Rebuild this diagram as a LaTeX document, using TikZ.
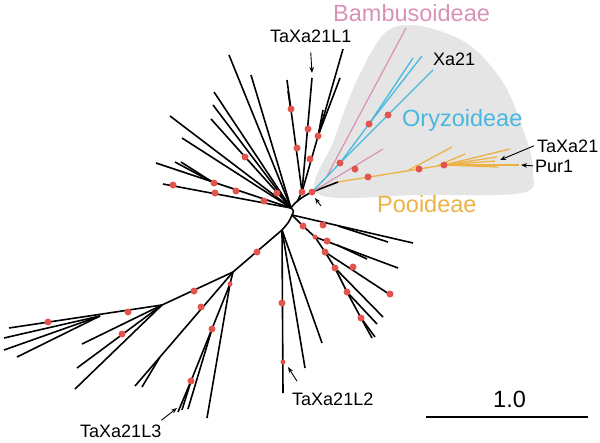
\documentclass[tikz,border=0pt]{standalone}
\usepackage{fontspec}
\setmainfont{Liberation Sans}
\usetikzlibrary{arrows.meta}
\definecolor{bambu}{RGB}{216,146,182}
\definecolor{oryza}{RGB}{72,184,224}
\definecolor{pooid}{RGB}{236,178,70}
\definecolor{dotred}{RGB}{226,84,76}
\definecolor{cladegrey}{RGB}{229,229,229}
\tikzset{
  br/.style={line width=1.6pt, black},
  pk/.style={line width=1.2pt, bambu},
  bl/.style={line width=1.3pt, oryza},
  og/.style={line width=1.3pt, pooid},
  dot/.style={circle, fill=dotred, inner sep=0pt, minimum size=7pt},
  sdot/.style={dot, minimum size=5pt},
  lab/.style={font=\fontsize{18}{20}\selectfont, inner sep=0pt, anchor=base west},
  big/.style={font=\fontsize{23.5}{26}\selectfont, inner sep=0pt, anchor=base west},
  ptr/.style={-{Stealth[length=6pt,width=4.5pt]}, line width=0.9pt}
}
\begin{document}
\begin{tikzpicture}[x=1pt,y=-1pt]
\useasboundingbox (0,0) rectangle (600,442);
% grass clade
\fill[cladegrey] plot[smooth cycle, tension=0.55] coordinates {(318,194) (334,140) (358,78) (386,32) (420,26) (468,44) (504,84) (526,138) (533,172) (522,193) (420,195)};

% centre
\coordinate (ctr) at (291,208);
\coordinate (mid) at (292,215);
\coordinate (stem) at (297,202);
\coordinate (up) at (302,192);
\coordinate (gr) at (312,192);
\coordinate (lo) at (282,230);
\draw[br] (ctr) .. controls (294,203) and (303,196) .. (gr);
\draw[br] (ctr) .. controls (294,211) .. (mid);
\draw[br] (mid) .. controls (289,222) .. (lo);
\draw[br] (stem) -- (up);

% upper left fan
\coordinate (u1) at (229,55);
\coordinate (u2) at (251,75);
\coordinate (u3) at (214,92);
\coordinate (u4) at (213,105);
\coordinate (u5) at (211,119);
\coordinate (u6) at (170,116);
\coordinate (u7) at (182,138);
\coordinate (u8) at (156,163);
\coordinate (u9) at (175,162);
\coordinate (u10) at (181,162);
\coordinate (u11) at (163,184);
\coordinate (uk) at (214,183);
\foreach \e in {u1,u2,u3,u4,u5,u6,u7,u8,u11}
  \draw[br] (ctr) -- (\e);
\draw[br] (uk) -- (u9);
\draw[br] (uk) -- (u10);

% TaXa21L1 clade
\coordinate (t1) at (287,80);
\coordinate (t1a) at (291,111);
\coordinate (t1b) at (288,91);
\coordinate (t2) at (312,78);
\coordinate (t3) at (343,49);
\coordinate (t4) at (340,78);
\coordinate (t5) at (323,110);
\coordinate (tk) at (318,136);
\draw[br] (up) -- (t1);
\draw[br] (t1a) -- (t1b);
\draw[br] (up) -- (t2);
\draw[br] (up) -- (t3);
\draw[br] (tk) -- (t4);
\draw[br] (tk) -- (t5);

% Pooideae
\coordinate (pg) at (338,182);
\coordinate (pa) at (407,171);
\coordinate (pb) at (437,166);
\coordinate (pf) at (444,165);
\draw[br] (gr) -- (pg);
\draw[og] (pg) -- (pf);
\draw[og] (pa) -- (452,147) coordinate (p1);
\draw[og] (pb) -- (465,154) coordinate (p2);
\foreach \e/\p in {p3/{510,149}, p4/{497,157}, p5/{495,161}, p6/{519,165}, p7/{498,167}}
  \draw[og] (pf) -- (\p) coordinate (\e);

% Bambusoideae
\coordinate (pks) at (327,176);
\draw[pk] (pks) -- (406,28) coordinate (k2);
\draw[pk] (gr) -- (383,149) coordinate (k1);

% Oryzoideae
\coordinate (b0) at (340,163);
\coordinate (bk) at (369,124);
\draw[bl] (gr) -- (b0);
\draw[bl] (b0) -- (bk);
\draw[bl] (bk) -- (413,58) coordinate (x1);
\draw[bl] (bk) -- (422,56) coordinate (x2);
\draw[bl] (b0) -- (433,70) coordinate (x3);

% lower right fan
\coordinate (q1) at (413,243);
\coordinate (qk) at (338,226);
\coordinate (q2) at (388,242);
\coordinate (r1) at (303,226);
\coordinate (r2) at (315,237);
\coordinate (q3) at (398,268);
\coordinate (qj) at (337,245);
\coordinate (q4) at (367,259);
\coordinate (r3) at (325,252);
\coordinate (q5) at (392,296);
\coordinate (r4) at (335,268);
\coordinate (q6) at (383,317);
\coordinate (r5) at (347,292);
\coordinate (r6) at (361,318);
\coordinate (q7) at (372,338);
\coordinate (q8) at (375,337);
\coordinate (q9) at (377,324);
\foreach \u/\v in {mid/q1, qk/q2, mid/r1, r1/r2, r2/q3, qj/q4, r2/r3, r3/q5, r3/r4, r4/q6, r4/r5, r5/r6, r6/q7, r6/q8, r5/q9}
  \draw[br] (\u) -- (\v);

% lower stems
\coordinate (v1) at (283,393);
\coordinate (v2) at (305,368);
\coordinate (v3) at (322,343);
\foreach \e in {v1,v2,v3}
  \draw[br] (lo) -- (\e);

% lower left
\coordinate (j2) at (233,272);
\coordinate (j3) at (162,305);
\coordinate (w0) at (230,284);
\coordinate (w1) at (207,418);
\coordinate (w2) at (212,329);
\coordinate (w3) at (191,381);
\coordinate (w4) at (178,412);
\coordinate (w5) at (182,410);
\coordinate (w6) at (188,409);
\coordinate (w8) at (160,357);
\coordinate (w9) at (135,386);
\coordinate (w10) at (142,387);
\coordinate (z2) at (100,316);
\coordinate (z4) at (9,328);
\coordinate (z5) at (4,338);
\coordinate (z6) at (4,350);
\coordinate (z7) at (17,357);
\coordinate (z8) at (82,344);
\coordinate (z10) at (77,368);
\coordinate (z11) at (75,389);
\foreach \u/\v in {lo/j2, j2/j3, j2/w0, w0/w1, w0/w3, w3/w4, w3/w5, w2/w6, j2/w8, w8/w9, w8/w10, j3/z4, z2/z5, z2/z6, z2/z7, j3/z8, j3/z10, j3/z11}
  \draw[br] (\u) -- (\v);

% red dots
\foreach \p [count=\i] in {{277,193},{245,157},{264,201},{215,193},{173,185},{236,191},{214,183},
  {291,109},{297,148},{308,129},{310,159},{318,136},{302,192},{312,192},
  {368,177},{419,169},{444,165},{355,169},{340,163},{369,124},{388,115},
  {323,225},{303,226},{327,241},{325,252},{353,267},{390,294},{335,268},{347,292},{361,318},
  {282,303},{257,252},{194,291},{212,329},{191,381},{201,307},{128,312},{48,322},{122,334}}
  \node[dot] (d\i) at (\p) {};
\foreach \p [count=\i] in {{315,237},{283,362},{230,284}}
  \node[sdot] (s\i) at (\p) {};

% labels
\node[big, text=bambu] (bam) at (333,21) {Bambusoideae};
\node[lab] (xa) at (433,65) {Xa21};
\node[big, text=oryza] (ory) at (402,126) {Oryzoideae};
\node[lab] (tx) at (537,152) {TaXa21};
\node[lab] (pur) at (535,172) {Pur1};
\node[big, text=pooid] (poo) at (377,212) {Pooideae};
\node[lab] (L1) at (270,42) {TaXa21L1};
\node[lab] (L2) at (292,405) {TaXa21L2};
\node[lab] (L3) at (80,437) {TaXa21L3};
\node[big] (sc) at (493,407) {1.0};

% pointers
\coordinate (a1) at (312,73);
\draw[ptr] ([yshift=-10pt]L1.south) -- (a1);
\coordinate (a2) at (500,160);
\draw[ptr] ([xshift=-3pt]tx.west) -- (a2);
\coordinate (a3) at (521,165);
\draw[ptr] ([xshift=-2pt]pur.west) -- (a3);
\coordinate (a4) at (288,367);
\draw[ptr] ([shift={(5pt,11pt)}]L2.north west) -- (a4);
\coordinate (a5) at (177,408);
\draw[ptr] ([yshift=4pt]L3.north east) -- (a5);
\coordinate (cb) at (321,206);
\coordinate (ca) at (315,198);
\draw[ptr] (cb) -- (ca);

% scale bar
\coordinate (s1) at (426,417);
\coordinate (s2) at (588,417);
\draw[line width=2pt] (s1) -- (s2);
\end{tikzpicture}
\end{document}
